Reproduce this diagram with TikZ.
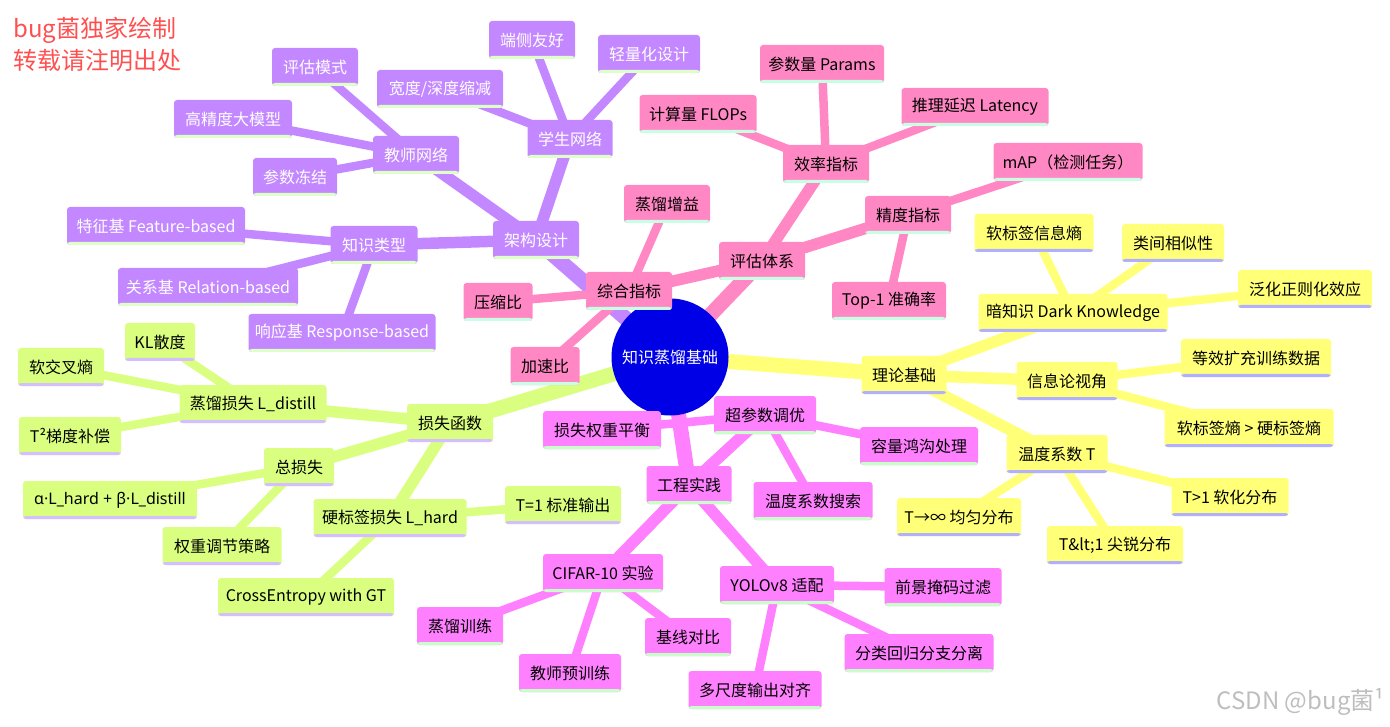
\documentclass[tikz,border=0pt]{standalone}
\usepackage{fontspec}
\setmainfont{Noto Sans CJK SC}
\newfontfamily\latinfont{Noto Sans}
\usetikzlibrary{backgrounds}

\definecolor{rootblue}{RGB}{0,0,230}
\definecolor{archpurple}{RGB}{195,136,255}
\definecolor{archline}{RGB}{222,255,200}
\definecolor{evalpink}{RGB}{255,136,196}
\definecolor{evalline}{RGB}{200,255,228}
\definecolor{theoyellow}{RGB}{255,255,120}
\definecolor{theoline}{RGB}{176,176,255}
\definecolor{lossgreen}{RGB}{218,255,128}
\definecolor{lossline}{RGB}{212,190,255}
\definecolor{engmagenta}{RGB}{255,128,255}
\definecolor{engline}{RGB}{200,255,200}
\definecolor{wmred}{RGB}{255,80,80}
\definecolor{wmgray}{RGB}{190,190,190}

\begin{document}
\begin{tikzpicture}[
  x=1pt, y=-1pt,
  font=\fontsize{16pt}{19pt}\selectfont,
  box/.style={rectangle, rounded corners=3pt, minimum height=38pt, inner sep=0pt, align=center},
  strip/.style={path picture={\fill[#1] ([yshift=3pt]path picture bounding box.south west) rectangle (path picture bounding box.south east);}},
  arch/.style={box, fill=archpurple, text=white, strip=archline, minimum width=#1pt},
  eval/.style={box, fill=evalpink, strip=evalline, minimum width=#1pt},
  theo/.style={box, fill=theoyellow, strip=theoline, minimum width=#1pt},
  loss/.style={box, fill=lossgreen, strip=lossline, minimum width=#1pt},
  eng/.style={box, fill=engmagenta, strip=engline, minimum width=#1pt},
  l1/.style={line width=15pt},
  l2/.style={line width=11.5pt},
  l3/.style={line width=8.5pt},
]
\useasboundingbox (0,0) rectangle (1390,727);

% watermarks
\node[anchor=west, align=left, text=wmred, font=\fontsize{24pt}{32pt}\selectfont] (mark) at (10,44) {bug菌独家绘制\\转载请注明出处};
\node[anchor=east, text=wmgray, font=\fontsize{24pt}{28pt}\selectfont] (csdn) at (1388,702) {CSDN @bug菌¹};

% root
\node[circle, fill=rootblue, text=white, minimum size=117pt, inner sep=0pt] (root) at (670,357) {知识蒸馏基础};

% architecture branch
\node[arch=86] (jiagou) at (536,240) {架构设计};
\node[arch=86] (teacher) at (416,155) {教师网络};
\node[arch=86] (evalmode) at (315,67) {评估模式};
\node[arch=118] (bigmodel) at (233,119) {高精度大模型};
\node[arch=84] (freeze) at (295,177) {参数冻结};
\node[arch=85] (student) at (570,139) {学生网络};
\node[arch=86] (edge) at (532,40) {端侧友好};
\node[arch=102] (light) at (649,54) {轻量化设计};
\node[arch=126] (shrink) at (440,89) {宽度/深度缩减};
\node[arch=87] (kind) at (374,245) {知识类型};
\node[arch=178] (feat) at (156,226) {特征基 Feature-based};
\node[arch=180] (rel) at (208,287) {关系基 Relation-based};
\node[arch=187] (resp) at (342,333) {响应基 Response-based};

% evaluation branch
\node[eval=86] (evalsys) at (762,261) {评估体系};
\node[eval=86] (effic) at (826,164) {效率指标};
\node[eval=124] (params) at (822,64) {参数量 Params};
\node[eval=117] (flops) at (698,114) {计算量 FLOPs};
\node[eval=147] (latency) at (975,107) {推理延迟 Latency};
\node[eval=86] (acc) at (908,215) {精度指标};
\node[eval=149] (mapdet) at (1068,162) {mAP（检测任务）};
\node[eval=114] (top1) at (889,301) {Top-1 准确率};
\node[eval=86] (overall) at (629,291) {综合指标};
\node[eval=86] (gain) at (667,204) {蒸馏增益};
\node[eval=69] (ratio) at (498,302) {压缩比};
\node[eval=69] (speedup) at (545,366) {加速比};

% theory branch
\node[theo=85] (theory) at (904,375) {理论基础};
\node[theo=189] (dark) at (1073,313) {暗知识 Dark Knowledge};
\node[theo=119] (softent) at (1034,233) {软标签信息熵};
\node[theo=102] (simil) at (1173,243) {类间相似性};
\node[theo=134] (regul) at (1305,289) {泛化正则化效应};
\node[theo=101] (info) at (1067,381) {信息论视角};
\node[theo=150] (augm) at (1256,358) {等效扩充训练数据};
\node[theo=169] (entcmp) at (1249,428) {软标签熵 > 硬标签熵};
\node[theo=101] (temp) at (1057,454) {温度系数 T};
\node[theo=117] (tbig) at (1230,497) {T>1 软化分布};
\node[theo=136] (tsmall) at (1115,545) {T\&lt;1 尖锐分布};
\node[theo=124] (tinf) at (959,517) {T→∞ 均匀分布};

% loss branch
\node[loss=86] (lossfn) at (450,423) {损失函数};
\node[loss=147] (ldist) at (253,404) {蒸馏损失 L\_distill};
\node[loss=70] (kl) at (160,342) {KL散度};
\node[loss=86] (softce) at (61,367) {软交叉熵};
\node[loss=102] (tsq) at (70,436) {T²梯度补偿};
\node[loss=70] (total) at (299,467) {总损失};
\node[loss=174] (combo) at (110,500) {\latinfont α·L\_hard + β·L\_distill};
\node[loss=119] (weights) at (222,546) {权重调节策略};
\node[loss=153] (lhard) at (390,518) {硬标签损失 L\_hard};
\node[loss=176] (crossent) at (306,597) {CrossEntropy with GT};
\node[loss=116] (tone) at (563,505) {T=1 标准输出};

% engineering branch
\node[eng=85] (practice) at (689,485) {工程实践};
\node[eng=102] (hyper) at (765,415) {超参数调优};
\node[eng=118] (balance) at (602,430) {损失权重平衡};
\node[eng=118] (gap) at (919,446) {容量鸿沟处理};
\node[eng=119] (tsearch) at (813,501) {温度系数搜索};
\node[eng=120] (cifar) at (603,573) {CIFAR-10 实验};
\node[eng=86] (kdtrain) at (460,626) {蒸馏训练};
\node[eng=102] (pretrain) at (570,673) {教师预训练};
\node[eng=86] (baseline) at (688,637) {基线对比};
\node[eng=114] (yolo) at (777,585) {YOLOv8 适配};
\node[eng=117] (fgmask) at (943,587) {前景掩码过滤};
\node[eng=149] (split) at (919,653) {分类回归分支分离};
\node[eng=133] (multi) at (755,690) {多尺度输出对齐};

% connectors, behind the boxes
\begin{scope}[on background layer]
\draw[archpurple, l1] (root.center) -- (jiagou.center);
\draw[archpurple, l2] (jiagou.center) -- (teacher.center) (jiagou.center) -- (student.center) (jiagou.center) -- (kind.center);
\draw[archpurple, l3] (teacher.center) -- (evalmode.center) (teacher.center) -- (bigmodel.center) (teacher.center) -- (freeze.center);
\draw[archpurple, l3] (student.center) -- (edge.center) (student.center) -- (light.center) (student.center) -- (shrink.center);
\draw[archpurple, l3] (kind.center) -- (feat.center) (kind.center) -- (rel.center) (kind.center) -- (resp.center);

\draw[evalpink, l1] (root.center) -- (evalsys.center);
\draw[evalpink, l2] (evalsys.center) -- (effic.center) (evalsys.center) -- (acc.center) (evalsys.center) -- (overall.center);
\draw[evalpink, l3] (effic.center) -- (params.center) (effic.center) -- (flops.center) (effic.center) -- (latency.center);
\draw[evalpink, l3] (acc.center) -- (mapdet.center) (acc.center) -- (top1.center);
\draw[evalpink, l3] (overall.center) -- (gain.center) (overall.center) -- (ratio.center) (overall.center) -- (speedup.center);

\draw[theoyellow, l1] (root.center) -- (theory.center);
\draw[theoyellow, l2] (theory.center) -- (dark.center) (theory.center) -- (info.center) (theory.center) -- (temp.center);
\draw[theoyellow, l3] (dark.center) -- (softent.center) (dark.center) -- (simil.center) (dark.center) -- (regul.center);
\draw[theoyellow, l3] (info.center) -- (augm.center) (info.center) -- (entcmp.center);
\draw[theoyellow, l3] (temp.center) -- (tbig.center) (temp.center) -- (tsmall.center) (temp.center) -- (tinf.center);

\draw[lossgreen, l1] (root.center) -- (lossfn.center);
\draw[lossgreen, l2] (lossfn.center) -- (ldist.center) (lossfn.center) -- (total.center) (lossfn.center) -- (lhard.center);
\draw[lossgreen, l3] (ldist.center) -- (kl.center) (ldist.center) -- (softce.center) (ldist.center) -- (tsq.center);
\draw[lossgreen, l3] (total.center) -- (combo.center) (total.center) -- (weights.center);
\draw[lossgreen, l3] (lhard.center) -- (crossent.center) (lhard.center) -- (tone.center);

\draw[engmagenta, l1] (root.center) -- (practice.center);
\draw[engmagenta, l2] (practice.center) -- (hyper.center) (practice.center) -- (cifar.center) (practice.center) -- (yolo.center);
\draw[engmagenta, l3] (hyper.center) -- (balance.center) (hyper.center) -- (gap.center) (hyper.center) -- (tsearch.center);
\draw[engmagenta, l3] (cifar.center) -- (kdtrain.center) (cifar.center) -- (pretrain.center) (cifar.center) -- (baseline.center);
\draw[engmagenta, l3] (yolo.center) -- (fgmask.center) (yolo.center) -- (split.center) (yolo.center) -- (multi.center);
\end{scope}
\end{tikzpicture}
\end{document}
